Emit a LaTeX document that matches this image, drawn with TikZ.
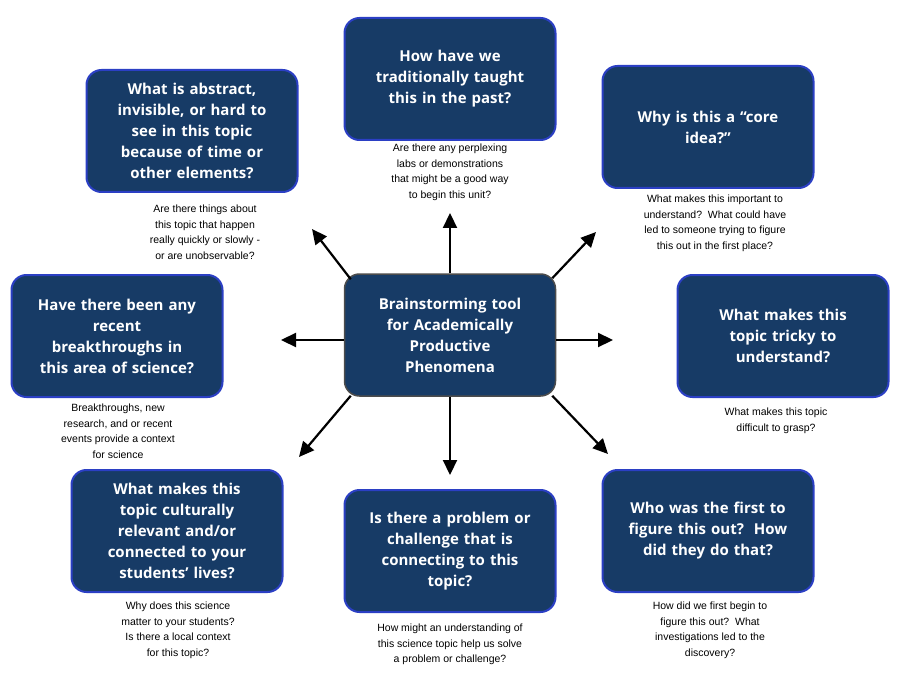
\documentclass[tikz,border=0pt]{standalone}
\usepackage{fontspec}
\setmainfont{Open Sans}
\newfontfamily\capfont{Liberation Sans}
\usetikzlibrary{arrows.meta}
\definecolor{navy}{HTML}{173B66}
\definecolor{rim}{HTML}{2B3FC4}
\begin{document}
\begin{tikzpicture}[x=1pt,y=-1pt,
 box/.style={draw=rim,line width=2pt,fill=navy,rounded corners=15pt,text=white,font=\bfseries\fontsize{15}{21}\selectfont,align=center,minimum width=211pt,minimum height=122pt,text width=185pt,inner sep=0pt},
 note/.style={font=\capfont\fontsize{10.5}{15.5}\selectfont,align=center,anchor=north,inner sep=0pt},
 arr/.style={line width=2.2pt,-{Triangle[length=15pt,width=14pt]}}]
\useasboundingbox (0,0) rectangle (905,679);
\node[box,draw=black!70,line width=1.5pt] (c) at (450,335) {Brainstorming tool\\for Academically\\Productive\\Phenomena};
\node[box] (t) at (450,79) {How have we\\traditionally taught\\this in the past?};
\node[note] (tc) at (450,144) {Are there any perplexing\\labs or demonstrations\\that might be a good way\\to begin this unit?};
\node[box] (tl) at (192,131) {What is abstract,\\invisible, or hard to\\see in this topic\\because of time or\\other elements?};
\node[note] (tlc) at (205,205) {Are there things about\\this topic that happen\\really quickly or slowly -\\or are unobservable?};
\node[box] (tr) at (708,127) {Why is this a ``core\\idea?''};
\node[note] (trc) at (715,195) {What makes this important to\\understand?\ \ What could have\\led to someone trying to figure\\this out in the first place?};
\node[box] (l) at (117,336) {Have there been any\\recent\\breakthroughs in\\this area of science?};
\node[note] (lc) at (118,404) {Breakthroughs, new\\research, and or recent\\events provide a context\\for science};
\node[box] (r) at (783,336) {What makes this\\topic tricky to\\understand?};
\node[note] (rc) at (776,408) {What makes this topic\\difficult to grasp?};
\node[box] (bl) at (177,531) {What makes this\\topic culturally\\relevant and/or\\connected to your\\students' lives?};
\node[note] (blc) at (178,602) {Why does this science\\matter to your students?\\Is there a local context\\for this topic?};
\node[box] (b) at (450,551) {Is there a problem or\\challenge that is\\connecting to this\\topic?};
\node[note] (bc) at (450,624) {How might an understanding of\\this science topic help us solve\\a problem or challenge?};
\node[box] (br) at (708,531) {Who was the first to\\figure this out?\ \ How\\did they do that?};
\node[note] (brc) at (710,602) {How did we first begin to\\figure this out?\ \ What\\investigations led to the\\discovery?};
\coordinate (eu) at (450,213);
\coordinate (el) at (281,340);
\coordinate (er) at (613,340);
\coordinate (ed) at (450,475);
\coordinate (eul) at (312,229);
\coordinate (eur) at (596,232);
\coordinate (edl) at (299,457);
\coordinate (edr) at (608,454);
\draw[arr] (c.north) -- (eu);
\draw[arr] (c.west |- el) -- (el);
\draw[arr] (c.east |- er) -- (er);
\draw[arr] (c.south) -- (ed);
\draw[arr] (c.north west) ++(7,6) -- (eul);
\draw[arr] (c.north east) ++(-4,5) -- (eur);
\draw[arr] (c.south west) ++(7,-1) -- (edl);
\draw[arr] (c.south east) ++(-4,-1) -- (edr);
\end{tikzpicture}
\end{document}
